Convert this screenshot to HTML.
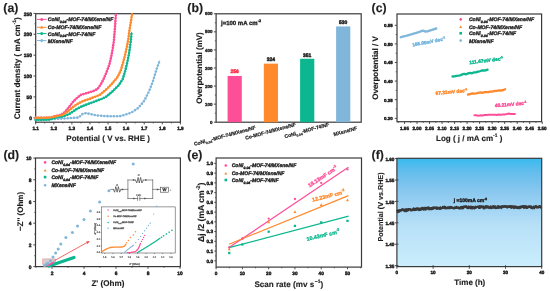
<!DOCTYPE html>
<html><head><meta charset="utf-8"><style>html,body{margin:0;padding:0;background:#fff;width:550px;height:291px;overflow:hidden}svg{display:block;will-change:transform}text{font-family:"Liberation Sans",sans-serif;text-rendering:geometricPrecision}</style></head>
<body><svg xmlns="http://www.w3.org/2000/svg" width="550" height="291" viewBox="0 0 550 291"><text x="3.30" y="11.70" font-size="12.3" text-anchor="start" fill="#1e1e1e" stroke="#1e1e1e" stroke-width="0.14" font-family="Liberation Sans" font-weight="bold" >(a)</text><rect x="35.7" y="13.7" width="144.70" height="108.50" fill="none" stroke="#3a3a3a" stroke-width="1.2"/><line x1="35.70" y1="122.2" x2="35.70" y2="124.4" stroke="#3a3a3a" stroke-width="0.9"/><line x1="53.79" y1="122.2" x2="53.79" y2="124.4" stroke="#3a3a3a" stroke-width="0.9"/><line x1="71.88" y1="122.2" x2="71.88" y2="124.4" stroke="#3a3a3a" stroke-width="0.9"/><line x1="89.96" y1="122.2" x2="89.96" y2="124.4" stroke="#3a3a3a" stroke-width="0.9"/><line x1="108.05" y1="122.2" x2="108.05" y2="124.4" stroke="#3a3a3a" stroke-width="0.9"/><line x1="126.14" y1="122.2" x2="126.14" y2="124.4" stroke="#3a3a3a" stroke-width="0.9"/><line x1="144.23" y1="122.2" x2="144.23" y2="124.4" stroke="#3a3a3a" stroke-width="0.9"/><line x1="162.31" y1="122.2" x2="162.31" y2="124.4" stroke="#3a3a3a" stroke-width="0.9"/><line x1="180.40" y1="122.2" x2="180.40" y2="124.4" stroke="#3a3a3a" stroke-width="0.9"/><line x1="44.74" y1="122.2" x2="44.74" y2="123.5" stroke="#3a3a3a" stroke-width="0.7"/><line x1="62.83" y1="122.2" x2="62.83" y2="123.5" stroke="#3a3a3a" stroke-width="0.7"/><line x1="80.92" y1="122.2" x2="80.92" y2="123.5" stroke="#3a3a3a" stroke-width="0.7"/><line x1="99.01" y1="122.2" x2="99.01" y2="123.5" stroke="#3a3a3a" stroke-width="0.7"/><line x1="117.09" y1="122.2" x2="117.09" y2="123.5" stroke="#3a3a3a" stroke-width="0.7"/><line x1="135.18" y1="122.2" x2="135.18" y2="123.5" stroke="#3a3a3a" stroke-width="0.7"/><line x1="153.27" y1="122.2" x2="153.27" y2="123.5" stroke="#3a3a3a" stroke-width="0.7"/><line x1="171.36" y1="122.2" x2="171.36" y2="123.5" stroke="#3a3a3a" stroke-width="0.7"/><line x1="35.7" y1="117.80" x2="33.5" y2="117.80" stroke="#3a3a3a" stroke-width="0.9"/><line x1="35.7" y1="96.92" x2="33.5" y2="96.92" stroke="#3a3a3a" stroke-width="0.9"/><line x1="35.7" y1="76.04" x2="33.5" y2="76.04" stroke="#3a3a3a" stroke-width="0.9"/><line x1="35.7" y1="55.16" x2="33.5" y2="55.16" stroke="#3a3a3a" stroke-width="0.9"/><line x1="35.7" y1="34.28" x2="33.5" y2="34.28" stroke="#3a3a3a" stroke-width="0.9"/><line x1="35.7" y1="13.40" x2="33.5" y2="13.40" stroke="#3a3a3a" stroke-width="0.9"/><line x1="35.7" y1="107.36" x2="34.400000000000006" y2="107.36" stroke="#3a3a3a" stroke-width="0.7"/><line x1="35.7" y1="86.48" x2="34.400000000000006" y2="86.48" stroke="#3a3a3a" stroke-width="0.7"/><line x1="35.7" y1="65.60" x2="34.400000000000006" y2="65.60" stroke="#3a3a3a" stroke-width="0.7"/><line x1="35.7" y1="44.72" x2="34.400000000000006" y2="44.72" stroke="#3a3a3a" stroke-width="0.7"/><line x1="35.7" y1="23.84" x2="34.400000000000006" y2="23.84" stroke="#3a3a3a" stroke-width="0.7"/><text x="35.70" y="130.10" font-size="4.7" text-anchor="middle" fill="#1e1e1e" stroke="#1e1e1e" stroke-width="0.42" font-family="Liberation Sans" font-weight="bold" >1.1</text><text x="53.79" y="130.10" font-size="4.7" text-anchor="middle" fill="#1e1e1e" stroke="#1e1e1e" stroke-width="0.42" font-family="Liberation Sans" font-weight="bold" >1.2</text><text x="71.88" y="130.10" font-size="4.7" text-anchor="middle" fill="#1e1e1e" stroke="#1e1e1e" stroke-width="0.42" font-family="Liberation Sans" font-weight="bold" >1.3</text><text x="89.96" y="130.10" font-size="4.7" text-anchor="middle" fill="#1e1e1e" stroke="#1e1e1e" stroke-width="0.42" font-family="Liberation Sans" font-weight="bold" >1.4</text><text x="108.05" y="130.10" font-size="4.7" text-anchor="middle" fill="#1e1e1e" stroke="#1e1e1e" stroke-width="0.42" font-family="Liberation Sans" font-weight="bold" >1.5</text><text x="126.14" y="130.10" font-size="4.7" text-anchor="middle" fill="#1e1e1e" stroke="#1e1e1e" stroke-width="0.42" font-family="Liberation Sans" font-weight="bold" >1.6</text><text x="144.23" y="130.10" font-size="4.7" text-anchor="middle" fill="#1e1e1e" stroke="#1e1e1e" stroke-width="0.42" font-family="Liberation Sans" font-weight="bold" >1.7</text><text x="162.31" y="130.10" font-size="4.7" text-anchor="middle" fill="#1e1e1e" stroke="#1e1e1e" stroke-width="0.42" font-family="Liberation Sans" font-weight="bold" >1.8</text><text x="180.40" y="130.10" font-size="4.7" text-anchor="middle" fill="#1e1e1e" stroke="#1e1e1e" stroke-width="0.42" font-family="Liberation Sans" font-weight="bold" >1.9</text><text x="32.00" y="119.90" font-size="4.9" text-anchor="end" fill="#1e1e1e" stroke="#1e1e1e" stroke-width="0.42" font-family="Liberation Sans" font-weight="bold" >0</text><text x="32.00" y="99.02" font-size="4.9" text-anchor="end" fill="#1e1e1e" stroke="#1e1e1e" stroke-width="0.42" font-family="Liberation Sans" font-weight="bold" >50</text><text x="32.00" y="78.14" font-size="4.9" text-anchor="end" fill="#1e1e1e" stroke="#1e1e1e" stroke-width="0.42" font-family="Liberation Sans" font-weight="bold" >100</text><text x="32.00" y="57.26" font-size="4.9" text-anchor="end" fill="#1e1e1e" stroke="#1e1e1e" stroke-width="0.42" font-family="Liberation Sans" font-weight="bold" >150</text><text x="32.00" y="36.38" font-size="4.9" text-anchor="end" fill="#1e1e1e" stroke="#1e1e1e" stroke-width="0.42" font-family="Liberation Sans" font-weight="bold" >200</text><text x="32.00" y="15.50" font-size="4.9" text-anchor="end" fill="#1e1e1e" stroke="#1e1e1e" stroke-width="0.42" font-family="Liberation Sans" font-weight="bold" >250</text><text x="108.10" y="140.70" font-size="8.0" text-anchor="middle" fill="#1e1e1e" stroke="#1e1e1e" stroke-width="0.14" font-family="Liberation Sans" font-weight="bold" >Potential ( V vs. RHE )</text><text x="19.90" y="68.30" font-size="8.2" text-anchor="middle" fill="#1e1e1e" stroke="#1e1e1e" stroke-width="0.14" font-family="Liberation Sans" font-weight="bold" transform="rotate(-90 19.9 68.3)" >Current density ( mA cm<tspan font-size="5.08" baseline-shift="3.94">-1</tspan>)</text><polyline points="35.7,118.0 50.0,117.8 55.0,116.2 60.5,115.0 64.6,112.3 68.7,107.5 72.9,102.0 77.0,97.9 81.1,94.8 85.2,93.5 89.3,92.4 93.5,91.0 97.6,88.9 100.0,85.6 103.1,80.2 106.2,73.0 109.3,64.7 111.3,56.5 112.8,48.2 114.0,40.0 115.0,27.0 115.9,13.7" fill="none" stroke="#fd4f98" stroke-width="1.2" stroke-linejoin="round" stroke-linecap="round" /><polyline points="35.7,118.0 50.0,117.8 55.0,116.2 60.5,115.0 64.6,112.3 68.7,107.5 72.9,102.0 77.0,97.9 81.1,94.8 85.2,93.5 89.3,92.4 93.5,91.0 97.6,88.9 100.0,85.6 103.1,80.2 106.2,73.0 109.3,64.7 111.3,56.5 112.8,48.2 114.0,40.0 115.0,27.0 115.9,13.7" fill="none" stroke="#fd4f98" stroke-width="2.7" stroke-linejoin="round" stroke-linecap="round" stroke-dasharray="0 2.7"/><polyline points="35.7,119.3 55.0,119.0 78.4,117.6 82.5,114.0 85.9,113.1 90.7,114.1 96.2,115.4 105.0,116.0 110.0,116.3 120.0,116.2 124.0,115.1 131.2,112.7 138.4,107.9 144.4,100.6 149.2,91.0 152.9,81.4 156.5,69.4 159.7,60.6" fill="none" stroke="#80b6da" stroke-width="0.7" stroke-linejoin="round" stroke-linecap="round" /><polyline points="35.7,119.3 55.0,119.0 78.4,117.6 82.5,114.0 85.9,113.1 90.7,114.1 96.2,115.4 105.0,116.0 110.0,116.3 120.0,116.2 124.0,115.1 131.2,112.7 138.4,107.9 144.4,100.6 149.2,91.0 152.9,81.4 156.5,69.4 159.7,60.6" fill="none" stroke="#80b6da" stroke-width="2.6" stroke-linejoin="round" stroke-linecap="round" stroke-dasharray="0 3.2"/><polyline points="35.7,119.9 50.0,119.6 55.0,117.6 63.2,116.4 68.7,114.3 72.9,111.6 77.0,108.8 82.5,106.1 88.0,104.0 93.5,102.0 99.0,99.9 100.0,99.7 106.2,96.7 112.4,91.5 118.6,85.4 122.7,79.2 125.2,70.9 127.2,62.7 128.9,54.4 130.1,46.2 130.9,40.0 131.6,32.5" fill="none" stroke="#0cb78f" stroke-width="1.2" stroke-linejoin="round" stroke-linecap="round" /><polyline points="35.7,119.9 50.0,119.6 55.0,117.6 63.2,116.4 68.7,114.3 72.9,111.6 77.0,108.8 82.5,106.1 88.0,104.0 93.5,102.0 99.0,99.9 100.0,99.7 106.2,96.7 112.4,91.5 118.6,85.4 122.7,79.2 125.2,70.9 127.2,62.7 128.9,54.4 130.1,46.2 130.9,40.0 131.6,32.5" fill="none" stroke="#0cb78f" stroke-width="2.7" stroke-linejoin="round" stroke-linecap="round" stroke-dasharray="0 2.7"/><polyline points="35.7,117.9 50.0,117.6 55.0,116.6 61.9,115.0 66.0,113.0 70.1,109.5 74.2,106.1 78.4,103.4 82.5,101.3 86.6,99.9 92.1,97.9 97.6,95.8 100.5,94.3 106.2,89.5 112.4,83.3 117.5,77.1 120.6,70.9 123.1,62.7 125.2,54.4 126.8,47.2 128.2,40.0 129.5,30.0 131.0,21.0 132.1,13.7" fill="none" stroke="#ff8a2e" stroke-width="1.2" stroke-linejoin="round" stroke-linecap="round" /><polyline points="35.7,117.9 50.0,117.6 55.0,116.6 61.9,115.0 66.0,113.0 70.1,109.5 74.2,106.1 78.4,103.4 82.5,101.3 86.6,99.9 92.1,97.9 97.6,95.8 100.5,94.3 106.2,89.5 112.4,83.3 117.5,77.1 120.6,70.9 123.1,62.7 125.2,54.4 126.8,47.2 128.2,40.0 129.5,30.0 131.0,21.0 132.1,13.7" fill="none" stroke="#ff8a2e" stroke-width="2.7" stroke-linejoin="round" stroke-linecap="round" stroke-dasharray="0 2.7"/><line x1="37" y1="19.4" x2="46.5" y2="19.4" stroke="#fd4f98" stroke-width="1"/><circle cx="41.70" cy="19.40" r="1.5" fill="#fd4f98"/><text x="47.70" y="21.30" font-size="5.15" text-anchor="start" fill="#1e1e1e" stroke="#1e1e1e" stroke-width="0.34" font-family="Liberation Sans" font-weight="bold" font-style="italic">CoNi<tspan font-size="3.50" dy="1.75">0.04</tspan><tspan dy="-1.75">-MOF-74/MXene/NF</tspan></text><line x1="37" y1="27.3" x2="46.5" y2="27.3" stroke="#ff8a2e" stroke-width="1"/><path d="M41.70 25.43L43.50 28.57L39.90 28.57Z" fill="#ff8a2e"/><text x="47.70" y="29.20" font-size="5.15" text-anchor="start" fill="#1e1e1e" stroke="#1e1e1e" stroke-width="0.34" font-family="Liberation Sans" font-weight="bold" font-style="italic">Co-MOF-74/MXene/NF</text><line x1="37" y1="33.6" x2="46.5" y2="33.6" stroke="#0cb78f" stroke-width="1"/><circle cx="41.70" cy="33.60" r="1.5" fill="#0cb78f"/><text x="47.70" y="35.50" font-size="5.15" text-anchor="start" fill="#1e1e1e" stroke="#1e1e1e" stroke-width="0.34" font-family="Liberation Sans" font-weight="bold" font-style="italic">CoNi<tspan font-size="3.50" dy="1.75">0.04</tspan><tspan dy="-1.75">-MOF-74/NF</tspan></text><line x1="37" y1="40.6" x2="46.5" y2="40.6" stroke="#80b6da" stroke-width="1"/><path d="M41.70 38.65L43.65 40.60L41.70 42.55L39.75 40.60Z" fill="#80b6da"/><text x="47.70" y="42.50" font-size="5.15" text-anchor="start" fill="#1e1e1e" stroke="#1e1e1e" stroke-width="0.34" font-family="Liberation Sans" font-weight="bold" font-style="italic">MXene/NF</text><text x="187.30" y="11.70" font-size="12.3" text-anchor="start" fill="#1e1e1e" stroke="#1e1e1e" stroke-width="0.14" font-family="Liberation Sans" font-weight="bold" >(b)</text><rect x="216.1" y="13.8" width="145.10" height="108.40" fill="none" stroke="#3a3a3a" stroke-width="1.2"/><line x1="216.1" y1="122.20" x2="213.9" y2="122.20" stroke="#3a3a3a" stroke-width="0.9"/><line x1="216.1" y1="104.13" x2="213.9" y2="104.13" stroke="#3a3a3a" stroke-width="0.9"/><line x1="216.1" y1="86.06" x2="213.9" y2="86.06" stroke="#3a3a3a" stroke-width="0.9"/><line x1="216.1" y1="67.99" x2="213.9" y2="67.99" stroke="#3a3a3a" stroke-width="0.9"/><line x1="216.1" y1="49.92" x2="213.9" y2="49.92" stroke="#3a3a3a" stroke-width="0.9"/><line x1="216.1" y1="31.85" x2="213.9" y2="31.85" stroke="#3a3a3a" stroke-width="0.9"/><line x1="216.1" y1="13.78" x2="213.9" y2="13.78" stroke="#3a3a3a" stroke-width="0.9"/><line x1="216.1" y1="113.17" x2="214.79999999999998" y2="113.17" stroke="#3a3a3a" stroke-width="0.7"/><line x1="216.1" y1="95.09" x2="214.79999999999998" y2="95.09" stroke="#3a3a3a" stroke-width="0.7"/><line x1="216.1" y1="77.03" x2="214.79999999999998" y2="77.03" stroke="#3a3a3a" stroke-width="0.7"/><line x1="216.1" y1="58.96" x2="214.79999999999998" y2="58.96" stroke="#3a3a3a" stroke-width="0.7"/><line x1="216.1" y1="40.89" x2="214.79999999999998" y2="40.89" stroke="#3a3a3a" stroke-width="0.7"/><line x1="216.1" y1="22.81" x2="214.79999999999998" y2="22.81" stroke="#3a3a3a" stroke-width="0.7"/><text x="212.40" y="123.80" font-size="4.4" text-anchor="end" fill="#333" stroke="#333" stroke-width="0.42" font-family="Liberation Sans" font-weight="bold" >0</text><text x="212.40" y="105.73" font-size="4.4" text-anchor="end" fill="#333" stroke="#333" stroke-width="0.42" font-family="Liberation Sans" font-weight="bold" >100</text><text x="212.40" y="87.66" font-size="4.4" text-anchor="end" fill="#333" stroke="#333" stroke-width="0.42" font-family="Liberation Sans" font-weight="bold" >200</text><text x="212.40" y="69.59" font-size="4.4" text-anchor="end" fill="#333" stroke="#333" stroke-width="0.42" font-family="Liberation Sans" font-weight="bold" >300</text><text x="212.40" y="51.52" font-size="4.4" text-anchor="end" fill="#333" stroke="#333" stroke-width="0.42" font-family="Liberation Sans" font-weight="bold" >400</text><text x="212.40" y="33.45" font-size="4.4" text-anchor="end" fill="#333" stroke="#333" stroke-width="0.42" font-family="Liberation Sans" font-weight="bold" >500</text><text x="212.40" y="15.38" font-size="4.4" text-anchor="end" fill="#333" stroke="#333" stroke-width="0.42" font-family="Liberation Sans" font-weight="bold" >600</text><text x="201.60" y="68.00" font-size="8.0" text-anchor="middle" fill="#1e1e1e" stroke="#1e1e1e" stroke-width="0.14" font-family="Liberation Sans" font-weight="bold" transform="rotate(-90 201.6 68)" >Overpotential (mV)</text><text x="221.00" y="25.30" font-size="6.0" text-anchor="start" fill="#1e1e1e" stroke="#1e1e1e" stroke-width="0.32" font-family="Liberation Sans" font-weight="bold" >j=100 mA cm<tspan font-size="3.72" baseline-shift="2.88">-2</tspan></text><rect x="227.6" y="75.94" width="14.2" height="46.26" fill="#fd4f98"/><text x="234.70" y="72.94" font-size="5.0" text-anchor="middle" fill="#ff2a48" stroke="#ff2a48" stroke-width="0.42" font-family="Liberation Sans" font-weight="bold" >256</text><rect x="263.8" y="63.65" width="14.2" height="58.55" fill="#ff8a2e"/><text x="270.90" y="61.45" font-size="5.0" text-anchor="middle" fill="#1e1e1e" stroke="#1e1e1e" stroke-width="0.42" font-family="Liberation Sans" font-weight="bold" >324</text><rect x="300.1" y="58.77" width="14.2" height="63.43" fill="#0cb78f"/><text x="307.20" y="56.57" font-size="5.0" text-anchor="middle" fill="#1e1e1e" stroke="#1e1e1e" stroke-width="0.42" font-family="Liberation Sans" font-weight="bold" >351</text><rect x="336.1" y="26.43" width="14.2" height="95.77" fill="#80b6da"/><text x="343.20" y="24.23" font-size="5.0" text-anchor="middle" fill="#1e1e1e" stroke="#1e1e1e" stroke-width="0.42" font-family="Liberation Sans" font-weight="bold" >530</text><text transform="translate(224.80 135.70) rotate(-15.3)" x="0" y="1.80" font-size="5.0" text-anchor="middle" fill="#1e1e1e" stroke="#1e1e1e" stroke-width="0.2" font-family="Liberation Sans" font-weight="bold">CoNi<tspan font-size="3.30" dy="1.65">0.04</tspan><tspan dy="-1.65">-MOF-74/MXene/NF</tspan></text><text transform="translate(270.50 131.10) rotate(-15.3)" x="0" y="1.80" font-size="5.0" text-anchor="middle" fill="#1e1e1e" stroke="#1e1e1e" stroke-width="0.2" font-family="Liberation Sans" font-weight="bold">Co-MOF-74/MXene/NF</text><text transform="translate(306.80 130.30) rotate(-15.3)" x="0" y="1.80" font-size="5.0" text-anchor="middle" fill="#1e1e1e" stroke="#1e1e1e" stroke-width="0.2" font-family="Liberation Sans" font-weight="bold">CoNi<tspan font-size="3.30" dy="1.65">0.04</tspan><tspan dy="-1.65">-MOF-74/NF</tspan></text><text transform="translate(345.20 131.20) rotate(-15.3)" x="0" y="1.80" font-size="5.0" text-anchor="middle" fill="#1e1e1e" stroke="#1e1e1e" stroke-width="0.2" font-family="Liberation Sans" font-weight="bold">MXene/NF</text><text x="371.60" y="11.60" font-size="12.3" text-anchor="start" fill="#1e1e1e" stroke="#1e1e1e" stroke-width="0.14" font-family="Liberation Sans" font-weight="bold" >(c)</text><rect x="397" y="14" width="144.60" height="107.70" fill="none" stroke="#3a3a3a" stroke-width="1.2"/><line x1="404.50" y1="121.7" x2="404.50" y2="123.9" stroke="#3a3a3a" stroke-width="0.9"/><line x1="417.02" y1="121.7" x2="417.02" y2="123.9" stroke="#3a3a3a" stroke-width="0.9"/><line x1="429.54" y1="121.7" x2="429.54" y2="123.9" stroke="#3a3a3a" stroke-width="0.9"/><line x1="442.06" y1="121.7" x2="442.06" y2="123.9" stroke="#3a3a3a" stroke-width="0.9"/><line x1="454.58" y1="121.7" x2="454.58" y2="123.9" stroke="#3a3a3a" stroke-width="0.9"/><line x1="467.10" y1="121.7" x2="467.10" y2="123.9" stroke="#3a3a3a" stroke-width="0.9"/><line x1="479.62" y1="121.7" x2="479.62" y2="123.9" stroke="#3a3a3a" stroke-width="0.9"/><line x1="492.14" y1="121.7" x2="492.14" y2="123.9" stroke="#3a3a3a" stroke-width="0.9"/><line x1="504.66" y1="121.7" x2="504.66" y2="123.9" stroke="#3a3a3a" stroke-width="0.9"/><line x1="517.18" y1="121.7" x2="517.18" y2="123.9" stroke="#3a3a3a" stroke-width="0.9"/><line x1="529.70" y1="121.7" x2="529.70" y2="123.9" stroke="#3a3a3a" stroke-width="0.9"/><line x1="542.22" y1="121.7" x2="542.22" y2="123.9" stroke="#3a3a3a" stroke-width="0.9"/><line x1="410.76" y1="121.7" x2="410.76" y2="123.0" stroke="#3a3a3a" stroke-width="0.7"/><line x1="423.28" y1="121.7" x2="423.28" y2="123.0" stroke="#3a3a3a" stroke-width="0.7"/><line x1="435.80" y1="121.7" x2="435.80" y2="123.0" stroke="#3a3a3a" stroke-width="0.7"/><line x1="448.32" y1="121.7" x2="448.32" y2="123.0" stroke="#3a3a3a" stroke-width="0.7"/><line x1="460.84" y1="121.7" x2="460.84" y2="123.0" stroke="#3a3a3a" stroke-width="0.7"/><line x1="473.36" y1="121.7" x2="473.36" y2="123.0" stroke="#3a3a3a" stroke-width="0.7"/><line x1="485.88" y1="121.7" x2="485.88" y2="123.0" stroke="#3a3a3a" stroke-width="0.7"/><line x1="498.40" y1="121.7" x2="498.40" y2="123.0" stroke="#3a3a3a" stroke-width="0.7"/><line x1="510.92" y1="121.7" x2="510.92" y2="123.0" stroke="#3a3a3a" stroke-width="0.7"/><line x1="523.44" y1="121.7" x2="523.44" y2="123.0" stroke="#3a3a3a" stroke-width="0.7"/><line x1="535.96" y1="121.7" x2="535.96" y2="123.0" stroke="#3a3a3a" stroke-width="0.7"/><line x1="398.24" y1="121.7" x2="398.24" y2="123.0" stroke="#3a3a3a" stroke-width="0.7"/><line x1="397" y1="118.30" x2="394.8" y2="118.30" stroke="#3a3a3a" stroke-width="0.9"/><line x1="397" y1="99.70" x2="394.8" y2="99.70" stroke="#3a3a3a" stroke-width="0.9"/><line x1="397" y1="81.10" x2="394.8" y2="81.10" stroke="#3a3a3a" stroke-width="0.9"/><line x1="397" y1="62.50" x2="394.8" y2="62.50" stroke="#3a3a3a" stroke-width="0.9"/><line x1="397" y1="43.90" x2="394.8" y2="43.90" stroke="#3a3a3a" stroke-width="0.9"/><line x1="397" y1="25.30" x2="394.8" y2="25.30" stroke="#3a3a3a" stroke-width="0.9"/><line x1="397" y1="109.00" x2="395.7" y2="109.00" stroke="#3a3a3a" stroke-width="0.7"/><line x1="397" y1="90.40" x2="395.7" y2="90.40" stroke="#3a3a3a" stroke-width="0.7"/><line x1="397" y1="71.80" x2="395.7" y2="71.80" stroke="#3a3a3a" stroke-width="0.7"/><line x1="397" y1="53.20" x2="395.7" y2="53.20" stroke="#3a3a3a" stroke-width="0.7"/><line x1="397" y1="34.60" x2="395.7" y2="34.60" stroke="#3a3a3a" stroke-width="0.7"/><text x="404.50" y="129.60" font-size="4.6" text-anchor="middle" fill="#1e1e1e" stroke="#1e1e1e" stroke-width="0.42" font-family="Liberation Sans" font-weight="bold" >1.95</text><text x="417.02" y="129.60" font-size="4.6" text-anchor="middle" fill="#1e1e1e" stroke="#1e1e1e" stroke-width="0.42" font-family="Liberation Sans" font-weight="bold" >2.00</text><text x="429.54" y="129.60" font-size="4.6" text-anchor="middle" fill="#1e1e1e" stroke="#1e1e1e" stroke-width="0.42" font-family="Liberation Sans" font-weight="bold" >2.05</text><text x="442.06" y="129.60" font-size="4.6" text-anchor="middle" fill="#1e1e1e" stroke="#1e1e1e" stroke-width="0.42" font-family="Liberation Sans" font-weight="bold" >2.10</text><text x="454.58" y="129.60" font-size="4.6" text-anchor="middle" fill="#1e1e1e" stroke="#1e1e1e" stroke-width="0.42" font-family="Liberation Sans" font-weight="bold" >2.15</text><text x="467.10" y="129.60" font-size="4.6" text-anchor="middle" fill="#1e1e1e" stroke="#1e1e1e" stroke-width="0.42" font-family="Liberation Sans" font-weight="bold" >2.20</text><text x="479.62" y="129.60" font-size="4.6" text-anchor="middle" fill="#1e1e1e" stroke="#1e1e1e" stroke-width="0.42" font-family="Liberation Sans" font-weight="bold" >2.25</text><text x="492.14" y="129.60" font-size="4.6" text-anchor="middle" fill="#1e1e1e" stroke="#1e1e1e" stroke-width="0.42" font-family="Liberation Sans" font-weight="bold" >2.30</text><text x="504.66" y="129.60" font-size="4.6" text-anchor="middle" fill="#1e1e1e" stroke="#1e1e1e" stroke-width="0.42" font-family="Liberation Sans" font-weight="bold" >2.35</text><text x="517.18" y="129.60" font-size="4.6" text-anchor="middle" fill="#1e1e1e" stroke="#1e1e1e" stroke-width="0.42" font-family="Liberation Sans" font-weight="bold" >2.40</text><text x="529.70" y="129.60" font-size="4.6" text-anchor="middle" fill="#1e1e1e" stroke="#1e1e1e" stroke-width="0.42" font-family="Liberation Sans" font-weight="bold" >2.45</text><text x="542.22" y="129.60" font-size="4.6" text-anchor="middle" fill="#1e1e1e" stroke="#1e1e1e" stroke-width="0.42" font-family="Liberation Sans" font-weight="bold" >2.50</text><text x="392.60" y="120.20" font-size="4.4" text-anchor="end" fill="#1e1e1e" stroke="#1e1e1e" stroke-width="0.42" font-family="Liberation Sans" font-weight="bold" >0.30</text><text x="392.60" y="101.60" font-size="4.4" text-anchor="end" fill="#1e1e1e" stroke="#1e1e1e" stroke-width="0.42" font-family="Liberation Sans" font-weight="bold" >0.35</text><text x="392.60" y="83.00" font-size="4.4" text-anchor="end" fill="#1e1e1e" stroke="#1e1e1e" stroke-width="0.42" font-family="Liberation Sans" font-weight="bold" >0.40</text><text x="392.60" y="64.40" font-size="4.4" text-anchor="end" fill="#1e1e1e" stroke="#1e1e1e" stroke-width="0.42" font-family="Liberation Sans" font-weight="bold" >0.45</text><text x="392.60" y="45.80" font-size="4.4" text-anchor="end" fill="#1e1e1e" stroke="#1e1e1e" stroke-width="0.42" font-family="Liberation Sans" font-weight="bold" >0.50</text><text x="392.60" y="27.20" font-size="4.4" text-anchor="end" fill="#1e1e1e" stroke="#1e1e1e" stroke-width="0.42" font-family="Liberation Sans" font-weight="bold" >0.55</text><text x="469.20" y="141.20" font-size="8.0" text-anchor="middle" fill="#1e1e1e" stroke="#1e1e1e" stroke-width="0.14" font-family="Liberation Sans" font-weight="bold" >Log ( j / mA cm<tspan font-size="4.96" baseline-shift="3.84">-1</tspan> )</text><text x="378.40" y="68.00" font-size="8.0" text-anchor="middle" fill="#1e1e1e" stroke="#1e1e1e" stroke-width="0.14" font-family="Liberation Sans" font-weight="bold" transform="rotate(-90 378.4 68)" >Overpotential / V</text><polyline points="400.8,37.2 406.0,35.9 412.0,34.2 418.0,32.3 422.8,30.7 425.5,31.5 428.0,31.2 432.0,29.8 436.2,28.5" fill="none" stroke="#80b6da" stroke-width="2.4" stroke-linejoin="round" stroke-linecap="round" /><polyline points="452.5,76.5 454.4,76.4 456.4,75.9 458.4,75.7 460.3,75.3 462.2,74.4 464.2,73.9 466.2,74.3 468.1,73.4 470.1,72.9 472.0,73.3 474.0,72.4 475.9,72.3 477.9,71.6 479.8,71.3 481.8,70.5 483.7,70.5 485.7,70.4 487.6,69.6" fill="none" stroke="#0cb78f" stroke-width="2.3" stroke-linejoin="round" stroke-linecap="round" /><polyline points="468.0,94.5 470.1,94.2 472.1,93.4 474.2,93.7 476.2,93.3 478.3,92.8 480.4,92.4 482.4,92.8 484.5,92.2 486.6,92.1 488.6,92.0 490.7,91.6 492.7,91.5 494.8,90.8 496.9,90.9 498.9,90.3 501.0,90.5 503.0,90.2 505.1,89.3" fill="none" stroke="#ff8a2e" stroke-width="2.3" stroke-linejoin="round" stroke-linecap="round" /><polyline points="474.4,115.3 476.4,115.3 478.4,115.9 480.5,115.3 482.5,115.4 484.5,115.0 486.5,115.0 488.6,114.8 490.6,114.7 492.6,114.8 494.6,114.7 496.7,114.9 498.7,114.6 500.7,114.7 502.8,114.5 504.8,114.5 506.8,114.1 508.8,113.5 510.8,114.1 512.9,114.1 514.9,113.9" fill="none" stroke="#fd4f98" stroke-width="2.0" stroke-linejoin="round" stroke-linecap="round" /><text x="412.80" y="46.60" font-size="4.65" text-anchor="start" fill="#72b4de" stroke="#72b4de" stroke-width="0.42" font-family="Liberation Sans" font-weight="bold" transform="rotate(-11 412.8 46.6)" >165.05mV dec<tspan font-size="2.88" baseline-shift="2.23">-1</tspan></text><text x="469.60" y="64.20" font-size="4.8" text-anchor="start" fill="#0cb78f" stroke="#0cb78f" stroke-width="0.42" font-family="Liberation Sans" font-weight="bold" transform="rotate(-7 469.6 64.2)" >111.47mV dec<tspan font-size="2.98" baseline-shift="2.30">-1</tspan></text><text x="435.80" y="95.00" font-size="4.8" text-anchor="start" fill="#ff8a2e" stroke="#ff8a2e" stroke-width="0.42" font-family="Liberation Sans" font-weight="bold" transform="rotate(-5.5 435.8 95.0)" >67.31mV dec<tspan font-size="2.98" baseline-shift="2.30">-1</tspan></text><text x="495.00" y="107.20" font-size="4.8" text-anchor="start" fill="#fd4f98" stroke="#fd4f98" stroke-width="0.42" font-family="Liberation Sans" font-weight="bold" transform="rotate(-4.5 495 107.2)" >40.21mV dec<tspan font-size="2.98" baseline-shift="2.30">-1</tspan></text><circle cx="460.70" cy="19.40" r="1.3" fill="#fd4f98"/><text x="468.90" y="21.30" font-size="5.1" text-anchor="start" fill="#1e1e1e" stroke="#1e1e1e" stroke-width="0.34" font-family="Liberation Sans" font-weight="bold" font-style="italic">CoNi<tspan font-size="3.50" dy="1.75">0.04</tspan><tspan dy="-1.75">-MOF-74/MXene/NF</tspan></text><path d="M460.70 25.38L462.26 28.11L459.14 28.11Z" fill="#ff8a2e"/><text x="468.90" y="28.90" font-size="5.1" text-anchor="start" fill="#1e1e1e" stroke="#1e1e1e" stroke-width="0.34" font-family="Liberation Sans" font-weight="bold" font-style="italic">Co-MOF-74/MXene/NF</text><rect x="459.40" y="32.00" width="2.6" height="2.6" fill="#0cb78f"/><text x="468.90" y="35.20" font-size="5.1" text-anchor="start" fill="#1e1e1e" stroke="#1e1e1e" stroke-width="0.34" font-family="Liberation Sans" font-weight="bold" font-style="italic">CoNi<tspan font-size="3.50" dy="1.75">0.04</tspan><tspan dy="-1.75">-MOF-74/NF</tspan></text><circle cx="460.70" cy="40.60" r="1.3" fill="#80b6da"/><text x="468.90" y="42.50" font-size="5.1" text-anchor="start" fill="#1e1e1e" stroke="#1e1e1e" stroke-width="0.34" font-family="Liberation Sans" font-weight="bold" font-style="italic">MXene/NF</text><text x="3.40" y="158.50" font-size="12.3" text-anchor="start" fill="#1e1e1e" stroke="#1e1e1e" stroke-width="0.14" font-family="Liberation Sans" font-weight="bold" >(d)</text><rect x="35.5" y="158" width="144.90" height="108.60" fill="none" stroke="#3a3a3a" stroke-width="1.2"/><line x1="52.00" y1="266.6" x2="52.00" y2="268.8" stroke="#3a3a3a" stroke-width="0.9"/><line x1="84.00" y1="266.6" x2="84.00" y2="268.8" stroke="#3a3a3a" stroke-width="0.9"/><line x1="116.00" y1="266.6" x2="116.00" y2="268.8" stroke="#3a3a3a" stroke-width="0.9"/><line x1="148.00" y1="266.6" x2="148.00" y2="268.8" stroke="#3a3a3a" stroke-width="0.9"/><line x1="180.00" y1="266.6" x2="180.00" y2="268.8" stroke="#3a3a3a" stroke-width="0.9"/><line x1="36.00" y1="266.6" x2="36.00" y2="267.90000000000003" stroke="#3a3a3a" stroke-width="0.7"/><line x1="68.00" y1="266.6" x2="68.00" y2="267.90000000000003" stroke="#3a3a3a" stroke-width="0.7"/><line x1="100.00" y1="266.6" x2="100.00" y2="267.90000000000003" stroke="#3a3a3a" stroke-width="0.7"/><line x1="132.00" y1="266.6" x2="132.00" y2="267.90000000000003" stroke="#3a3a3a" stroke-width="0.7"/><line x1="164.00" y1="266.6" x2="164.00" y2="267.90000000000003" stroke="#3a3a3a" stroke-width="0.7"/><line x1="35.5" y1="266.60" x2="33.3" y2="266.60" stroke="#3a3a3a" stroke-width="0.9"/><line x1="35.5" y1="244.90" x2="33.3" y2="244.90" stroke="#3a3a3a" stroke-width="0.9"/><line x1="35.5" y1="223.20" x2="33.3" y2="223.20" stroke="#3a3a3a" stroke-width="0.9"/><line x1="35.5" y1="201.50" x2="33.3" y2="201.50" stroke="#3a3a3a" stroke-width="0.9"/><line x1="35.5" y1="179.80" x2="33.3" y2="179.80" stroke="#3a3a3a" stroke-width="0.9"/><line x1="35.5" y1="158.10" x2="33.3" y2="158.10" stroke="#3a3a3a" stroke-width="0.9"/><line x1="35.5" y1="255.75" x2="34.2" y2="255.75" stroke="#3a3a3a" stroke-width="0.7"/><line x1="35.5" y1="234.05" x2="34.2" y2="234.05" stroke="#3a3a3a" stroke-width="0.7"/><line x1="35.5" y1="212.35" x2="34.2" y2="212.35" stroke="#3a3a3a" stroke-width="0.7"/><line x1="35.5" y1="190.65" x2="34.2" y2="190.65" stroke="#3a3a3a" stroke-width="0.7"/><line x1="35.5" y1="168.95" x2="34.2" y2="168.95" stroke="#3a3a3a" stroke-width="0.7"/><text x="52.00" y="274.60" font-size="4.9" text-anchor="middle" fill="#1e1e1e" stroke="#1e1e1e" stroke-width="0.42" font-family="Liberation Sans" font-weight="bold" >2</text><text x="84.00" y="274.60" font-size="4.9" text-anchor="middle" fill="#1e1e1e" stroke="#1e1e1e" stroke-width="0.42" font-family="Liberation Sans" font-weight="bold" >4</text><text x="116.00" y="274.60" font-size="4.9" text-anchor="middle" fill="#1e1e1e" stroke="#1e1e1e" stroke-width="0.42" font-family="Liberation Sans" font-weight="bold" >6</text><text x="148.00" y="274.60" font-size="4.9" text-anchor="middle" fill="#1e1e1e" stroke="#1e1e1e" stroke-width="0.42" font-family="Liberation Sans" font-weight="bold" >8</text><text x="180.00" y="274.60" font-size="4.9" text-anchor="middle" fill="#1e1e1e" stroke="#1e1e1e" stroke-width="0.42" font-family="Liberation Sans" font-weight="bold" >10</text><text x="31.60" y="268.60" font-size="4.9" text-anchor="end" fill="#1e1e1e" stroke="#1e1e1e" stroke-width="0.42" font-family="Liberation Sans" font-weight="bold" >0</text><text x="31.60" y="246.90" font-size="4.9" text-anchor="end" fill="#1e1e1e" stroke="#1e1e1e" stroke-width="0.42" font-family="Liberation Sans" font-weight="bold" >2</text><text x="31.60" y="225.20" font-size="4.9" text-anchor="end" fill="#1e1e1e" stroke="#1e1e1e" stroke-width="0.42" font-family="Liberation Sans" font-weight="bold" >4</text><text x="31.60" y="203.50" font-size="4.9" text-anchor="end" fill="#1e1e1e" stroke="#1e1e1e" stroke-width="0.42" font-family="Liberation Sans" font-weight="bold" >6</text><text x="31.60" y="181.80" font-size="4.9" text-anchor="end" fill="#1e1e1e" stroke="#1e1e1e" stroke-width="0.42" font-family="Liberation Sans" font-weight="bold" >8</text><text x="31.60" y="160.10" font-size="4.9" text-anchor="end" fill="#1e1e1e" stroke="#1e1e1e" stroke-width="0.42" font-family="Liberation Sans" font-weight="bold" >10</text><text x="107.90" y="285.80" font-size="8.1" text-anchor="middle" fill="#1e1e1e" stroke="#1e1e1e" stroke-width="0.14" font-family="Liberation Sans" font-weight="bold" >Z&#39; (Ohm)</text><text x="23.30" y="211.50" font-size="8.0" text-anchor="middle" fill="#1e1e1e" stroke="#1e1e1e" stroke-width="0.14" font-family="Liberation Sans" font-weight="bold" transform="rotate(-90 23.3 211.5)" >−Z&#39;&#39; (Ohm)</text><rect x="42.7" y="258.9" width="12.9" height="5.7" fill="#cfcfcf" stroke="#f3a0a0" stroke-width="0.7"/><path d="M49 266 L74 257.5" stroke="#0cb78f" stroke-width="3.2" stroke-linecap="round"/><path d="M44 266 L50 265" stroke="#ff8a2e" stroke-width="1.5"/><path d="M47 266 L54 262" stroke="#fd4f98" stroke-width="1.5"/><circle cx="44.5" cy="265.5" r="1.5" fill="#80b6da"/><circle cx="46.2" cy="264.5" r="1.5" fill="#80b6da"/><circle cx="47.9" cy="263.3" r="1.5" fill="#80b6da"/><circle cx="50.5" cy="260.7" r="1.5" fill="#80b6da"/><circle cx="53" cy="256.9" r="1.5" fill="#80b6da"/><circle cx="55.6" cy="253" r="1.5" fill="#80b6da"/><circle cx="58.2" cy="249.1" r="1.5" fill="#80b6da"/><circle cx="60.8" cy="244" r="1.5" fill="#80b6da"/><circle cx="65.9" cy="237.5" r="1.5" fill="#80b6da"/><circle cx="72.4" cy="232.4" r="1.5" fill="#80b6da"/><circle cx="77.5" cy="225.9" r="1.5" fill="#80b6da"/><circle cx="84" cy="219.5" r="1.5" fill="#80b6da"/><circle cx="90.4" cy="211" r="1.5" fill="#80b6da"/><circle cx="99.6" cy="202.1" r="1.5" fill="#80b6da"/><circle cx="108.9" cy="190.7" r="1.5" fill="#80b6da"/><circle cx="133.2" cy="163.9" r="1.5" fill="#80b6da"/><line x1="54.3" y1="260.7" x2="88" y2="242" stroke="#f04040" stroke-width="0.8"/><path d="M89.8 241 L86.2 241.6 L87.6 244 Z" fill="#f04040"/><circle cx="45.10" cy="162.40" r="1.3" fill="#fd4f98"/><text x="51.40" y="164.30" font-size="5.05" text-anchor="start" fill="#1e1e1e" stroke="#1e1e1e" stroke-width="0.34" font-family="Liberation Sans" font-weight="bold" font-style="italic">CoNi<tspan font-size="3.50" dy="1.75">0.04</tspan><tspan dy="-1.75">-MOF-74/MXene/NF</tspan></text><path d="M45.10 168.88L46.66 171.60L43.54 171.60Z" fill="#ff8a2e"/><text x="51.40" y="172.40" font-size="5.05" text-anchor="start" fill="#1e1e1e" stroke="#1e1e1e" stroke-width="0.34" font-family="Liberation Sans" font-weight="bold" font-style="italic">Co-MOF-74/MXene/NF</text><rect x="43.80" y="175.80" width="2.6" height="2.6" fill="#0cb78f"/><text x="51.40" y="179.00" font-size="5.05" text-anchor="start" fill="#1e1e1e" stroke="#1e1e1e" stroke-width="0.34" font-family="Liberation Sans" font-weight="bold" font-style="italic">CoNi<tspan font-size="3.50" dy="1.75">0.04</tspan><tspan dy="-1.75">-MOF-74/NF</tspan></text><circle cx="45.10" cy="185.30" r="1.3" fill="#80b6da"/><text x="51.40" y="187.20" font-size="5.05" text-anchor="start" fill="#1e1e1e" stroke="#1e1e1e" stroke-width="0.34" font-family="Liberation Sans" font-weight="bold" font-style="italic">MXene/NF</text><polyline points="110.6,189.4 113.3,189.4" fill="none" stroke="#4a4a4a" stroke-width="0.6" stroke-linejoin="round" stroke-linecap="round" /><polyline points="113.3,189.4 114.6,192.2 115.8,186.6 117.1,192.2 118.4,186.6 119.6,192.2 120.9,189.4" fill="none" stroke="#4a4a4a" stroke-width="0.75" stroke-linejoin="round" stroke-linecap="round" /><polyline points="120.9,189.4 127.9,189.4" fill="none" stroke="#4a4a4a" stroke-width="0.6" stroke-linejoin="round" stroke-linecap="round" /><polyline points="127.9,180.0 127.9,198.5" fill="none" stroke="#4a4a4a" stroke-width="0.6" stroke-linejoin="round" stroke-linecap="round" /><polyline points="152.7,180.0 152.7,198.5" fill="none" stroke="#4a4a4a" stroke-width="0.6" stroke-linejoin="round" stroke-linecap="round" /><polyline points="127.9,180.0 135.5,180.0" fill="none" stroke="#4a4a4a" stroke-width="0.6" stroke-linejoin="round" stroke-linecap="round" /><polyline points="135.5,180.2 136.8,183.0 138.1,177.4 139.3,183.0 140.6,177.4 141.9,183.0 143.2,180.2" fill="none" stroke="#4a4a4a" stroke-width="0.75" stroke-linejoin="round" stroke-linecap="round" /><polyline points="143.2,180.0 152.7,180.0" fill="none" stroke="#4a4a4a" stroke-width="0.6" stroke-linejoin="round" stroke-linecap="round" /><polyline points="127.9,198.5 137.6,198.5" fill="none" stroke="#4a4a4a" stroke-width="0.6" stroke-linejoin="round" stroke-linecap="round" /><polyline points="139.8,198.5 152.7,198.5" fill="none" stroke="#4a4a4a" stroke-width="0.6" stroke-linejoin="round" stroke-linecap="round" /><polyline points="137.6,196.6 137.6,200.4" fill="none" stroke="#4a4a4a" stroke-width="0.6" stroke-linejoin="round" stroke-linecap="round" /><polyline points="139.8,196.6 139.8,200.4" fill="none" stroke="#4a4a4a" stroke-width="0.6" stroke-linejoin="round" stroke-linecap="round" /><path d="M121.9 188.4L124.0 189.4L121.9 190.4Z" fill="#4a4a4a"/><path d="M132.9 179.0L135.0 180.0L132.9 181.0Z" fill="#4a4a4a"/><path d="M145.1 179.0L147.2 180.0L145.1 181.0Z" fill="#4a4a4a"/><path d="M133.4 197.5L135.5 198.5L133.4 199.5Z" fill="#4a4a4a"/><path d="M144.4 197.5L146.5 198.5L144.4 199.5Z" fill="#4a4a4a"/><path d="M156.9 188.4L159.0 189.4L156.9 190.4Z" fill="#4a4a4a"/><polyline points="152.7,189.4 160.4,189.4" fill="none" stroke="#4a4a4a" stroke-width="0.6" stroke-linejoin="round" stroke-linecap="round" /><rect x="160.4" y="187.2" width="8.2" height="5.0" fill="none" stroke="#4a4a4a" stroke-width="0.6"/><text x="164.50" y="191.30" font-size="4.2" text-anchor="middle" fill="#333" stroke="#333" stroke-width="0.25" font-family="Liberation Sans" font-weight="bold" >W</text><text x="170.60" y="190.60" font-size="2.6" text-anchor="middle" fill="#888" stroke="#888" stroke-width="0.05" font-family="Liberation Sans" font-weight="bold" >x</text><text x="117.10" y="185.60" font-size="2.6" text-anchor="middle" fill="#4a4a4a" stroke="#4a4a4a" stroke-width="0.1" font-family="Liberation Sans" font-weight="bold" >R</text><text x="138.70" y="176.00" font-size="2.6" text-anchor="middle" fill="#4a4a4a" stroke="#4a4a4a" stroke-width="0.1" font-family="Liberation Sans" font-weight="bold" >R</text><text x="138.70" y="195.70" font-size="2.6" text-anchor="middle" fill="#4a4a4a" stroke="#4a4a4a" stroke-width="0.1" font-family="Liberation Sans" font-weight="bold" >CPE</text><rect x="101.4" y="206.9" width="73.80" height="46.10" fill="#fff" stroke="#555" stroke-width="0.6"/><line x1="104.6" y1="253.0" x2="104.6" y2="254.0" stroke="#3a3a3a" stroke-width="0.5"/><text x="104.60" y="258.40" font-size="2.4" text-anchor="middle" fill="#666" stroke="#666" stroke-width="0.2" font-family="Liberation Sans" font-weight="bold" >1.5</text><line x1="112.9" y1="253.0" x2="112.9" y2="254.0" stroke="#3a3a3a" stroke-width="0.5"/><text x="112.90" y="258.40" font-size="2.4" text-anchor="middle" fill="#666" stroke="#666" stroke-width="0.2" font-family="Liberation Sans" font-weight="bold" >1.6</text><line x1="121.2" y1="253.0" x2="121.2" y2="254.0" stroke="#3a3a3a" stroke-width="0.5"/><text x="121.20" y="258.40" font-size="2.4" text-anchor="middle" fill="#666" stroke="#666" stroke-width="0.2" font-family="Liberation Sans" font-weight="bold" >1.7</text><line x1="129.5" y1="253.0" x2="129.5" y2="254.0" stroke="#3a3a3a" stroke-width="0.5"/><text x="129.50" y="258.40" font-size="2.4" text-anchor="middle" fill="#666" stroke="#666" stroke-width="0.2" font-family="Liberation Sans" font-weight="bold" >1.8</text><line x1="137.8" y1="253.0" x2="137.8" y2="254.0" stroke="#3a3a3a" stroke-width="0.5"/><text x="137.80" y="258.40" font-size="2.4" text-anchor="middle" fill="#666" stroke="#666" stroke-width="0.2" font-family="Liberation Sans" font-weight="bold" >1.9</text><line x1="146.1" y1="253.0" x2="146.1" y2="254.0" stroke="#3a3a3a" stroke-width="0.5"/><text x="146.10" y="258.40" font-size="2.4" text-anchor="middle" fill="#666" stroke="#666" stroke-width="0.2" font-family="Liberation Sans" font-weight="bold" >2.0</text><line x1="154.4" y1="253.0" x2="154.4" y2="254.0" stroke="#3a3a3a" stroke-width="0.5"/><text x="154.40" y="258.40" font-size="2.4" text-anchor="middle" fill="#666" stroke="#666" stroke-width="0.2" font-family="Liberation Sans" font-weight="bold" >2.1</text><line x1="162.7" y1="253.0" x2="162.7" y2="254.0" stroke="#3a3a3a" stroke-width="0.5"/><text x="162.70" y="258.40" font-size="2.4" text-anchor="middle" fill="#666" stroke="#666" stroke-width="0.2" font-family="Liberation Sans" font-weight="bold" >2.2</text><line x1="171.0" y1="253.0" x2="171.0" y2="254.0" stroke="#3a3a3a" stroke-width="0.5"/><text x="171.00" y="258.40" font-size="2.4" text-anchor="middle" fill="#666" stroke="#666" stroke-width="0.2" font-family="Liberation Sans" font-weight="bold" >2.3</text><line x1="101.4" y1="252.6" x2="100.5" y2="252.6" stroke="#3a3a3a" stroke-width="0.5"/><text x="100.20" y="253.45" font-size="2.4" text-anchor="end" fill="#666" stroke="#666" stroke-width="0.2" font-family="Liberation Sans" font-weight="bold" >0.0</text><line x1="101.4" y1="245.8" x2="100.5" y2="245.8" stroke="#3a3a3a" stroke-width="0.5"/><text x="100.20" y="246.70" font-size="2.4" text-anchor="end" fill="#666" stroke="#666" stroke-width="0.2" font-family="Liberation Sans" font-weight="bold" >0.1</text><line x1="101.4" y1="239.1" x2="100.5" y2="239.1" stroke="#3a3a3a" stroke-width="0.5"/><text x="100.20" y="239.95" font-size="2.4" text-anchor="end" fill="#666" stroke="#666" stroke-width="0.2" font-family="Liberation Sans" font-weight="bold" >0.2</text><line x1="101.4" y1="232.3" x2="100.5" y2="232.3" stroke="#3a3a3a" stroke-width="0.5"/><text x="100.20" y="233.20" font-size="2.4" text-anchor="end" fill="#666" stroke="#666" stroke-width="0.2" font-family="Liberation Sans" font-weight="bold" >0.3</text><line x1="101.4" y1="225.6" x2="100.5" y2="225.6" stroke="#3a3a3a" stroke-width="0.5"/><text x="100.20" y="226.45" font-size="2.4" text-anchor="end" fill="#666" stroke="#666" stroke-width="0.2" font-family="Liberation Sans" font-weight="bold" >0.4</text><line x1="101.4" y1="218.8" x2="100.5" y2="218.8" stroke="#3a3a3a" stroke-width="0.5"/><text x="100.20" y="219.70" font-size="2.4" text-anchor="end" fill="#666" stroke="#666" stroke-width="0.2" font-family="Liberation Sans" font-weight="bold" >0.5</text><line x1="101.4" y1="212.1" x2="100.5" y2="212.1" stroke="#3a3a3a" stroke-width="0.5"/><text x="100.20" y="212.95" font-size="2.4" text-anchor="end" fill="#666" stroke="#666" stroke-width="0.2" font-family="Liberation Sans" font-weight="bold" >0.6</text><text x="134.50" y="264.80" font-size="2.6" text-anchor="middle" fill="#555" stroke="#555" stroke-width="0.2" font-family="Liberation Sans" font-weight="bold" >Z&#39; (Ohm)</text><text x="95.80" y="229.00" font-size="2.6" text-anchor="middle" fill="#555" stroke="#555" stroke-width="0.2" font-family="Liberation Sans" font-weight="bold" transform="rotate(-90 95.8 229)" >-Z&#39;&#39; (Ohm)</text><polyline points="102.0,251.6 104.0,250.3 106.1,249.2 110.1,247.5 114.2,247.1 118.2,247.1 122.3,247.0 124.5,246.2 125.8,244.3" fill="none" stroke="#ff8a2e" stroke-width="1.3" stroke-linejoin="round" stroke-linecap="round" /><circle cx="126.6" cy="242.7" r="0.75" fill="#ff8a2e"/><circle cx="128.4" cy="240.4" r="0.75" fill="#ff8a2e"/><circle cx="130.4" cy="237.6" r="0.75" fill="#ff8a2e"/><circle cx="133.4" cy="235" r="0.75" fill="#ff8a2e"/><circle cx="135.5" cy="231.7" r="0.75" fill="#ff8a2e"/><polyline points="124.3,252.6 128.5,248.9 133.4,245.2" fill="none" stroke="#80b6da" stroke-width="1.1" stroke-linejoin="round" stroke-linecap="round" /><circle cx="135.8" cy="242.5" r="0.7" fill="#80b6da"/><circle cx="138.5" cy="239.4" r="0.7" fill="#80b6da"/><circle cx="140.5" cy="236.4" r="0.7" fill="#80b6da"/><circle cx="142.5" cy="233.4" r="0.7" fill="#80b6da"/><circle cx="144.6" cy="230.8" r="0.7" fill="#80b6da"/><circle cx="146.6" cy="228.3" r="0.7" fill="#80b6da"/><circle cx="148.5" cy="225.5" r="0.7" fill="#80b6da"/><circle cx="150.2" cy="223.2" r="0.7" fill="#80b6da"/><circle cx="153.7" cy="214.1" r="0.7" fill="#80b6da"/><circle cx="156.7" cy="206.3" r="0.7" fill="#80b6da"/><polyline points="127.4,252.6 131.0,252.3 135.5,251.6 137.5,249.5 138.5,248.3 140.5,243.5" fill="none" stroke="#fd4f98" stroke-width="1.2" stroke-linejoin="round" stroke-linecap="round" /><circle cx="141.5" cy="241.4" r="0.7" fill="#fd4f98"/><circle cx="142.5" cy="239.4" r="0.7" fill="#fd4f98"/><circle cx="143.6" cy="237.4" r="0.7" fill="#fd4f98"/><circle cx="144.6" cy="235.4" r="0.7" fill="#fd4f98"/><polyline points="137.5,252.6 143.0,249.2 149.0,245.6 155.0,241.7 160.0,238.3" fill="none" stroke="#0cb78f" stroke-width="1.2" stroke-linejoin="round" stroke-linecap="round" /><rect x="160.8" y="236.60000000000002" width="1.4" height="1.4" fill="#0cb78f"/><rect x="162.9" y="235.10000000000002" width="1.4" height="1.4" fill="#0cb78f"/><rect x="165.70000000000002" y="233.3" width="1.4" height="1.4" fill="#0cb78f"/><rect x="168.5" y="231.5" width="1.4" height="1.4" fill="#0cb78f"/><rect x="171.20000000000002" y="229.60000000000002" width="1.4" height="1.4" fill="#0cb78f"/><circle cx="108.1" cy="210.1" r="0.75" fill="#fd4f98"/><text x="113.20" y="210.95" font-size="2.25" text-anchor="start" fill="#555" stroke="#555" stroke-width="0.25" font-family="Liberation Sans" font-weight="bold" >CoNi<tspan font-size="1.49" dy="0.74">0.04</tspan><tspan dy="-0.74">-MOF-74/MXene/NF</tspan></text><circle cx="108.1" cy="216.2" r="0.75" fill="#ff8a2e"/><text x="113.20" y="217.05" font-size="2.25" text-anchor="start" fill="#555" stroke="#555" stroke-width="0.25" font-family="Liberation Sans" font-weight="bold" >Co-MOF-74/MXene/NF</text><circle cx="108.1" cy="222.6" r="0.75" fill="#0cb78f"/><text x="113.20" y="223.45" font-size="2.25" text-anchor="start" fill="#555" stroke="#555" stroke-width="0.25" font-family="Liberation Sans" font-weight="bold" >CoNi<tspan font-size="1.49" dy="0.74">0.04</tspan><tspan dy="-0.74">-MOF-74/NF</tspan></text><circle cx="108.1" cy="228.3" r="0.75" fill="#80b6da"/><text x="113.20" y="229.15" font-size="2.25" text-anchor="start" fill="#555" stroke="#555" stroke-width="0.25" font-family="Liberation Sans" font-weight="bold" >MXene/NF</text><text x="187.30" y="158.50" font-size="12.3" text-anchor="start" fill="#1e1e1e" stroke="#1e1e1e" stroke-width="0.14" font-family="Liberation Sans" font-weight="bold" >(e)</text><rect x="216.1" y="158" width="145.40" height="109.10" fill="none" stroke="#3a3a3a" stroke-width="1.2"/><line x1="216.10" y1="267.1" x2="216.10" y2="269.3" stroke="#3a3a3a" stroke-width="0.9"/><line x1="242.38" y1="267.1" x2="242.38" y2="269.3" stroke="#3a3a3a" stroke-width="0.9"/><line x1="268.66" y1="267.1" x2="268.66" y2="269.3" stroke="#3a3a3a" stroke-width="0.9"/><line x1="294.94" y1="267.1" x2="294.94" y2="269.3" stroke="#3a3a3a" stroke-width="0.9"/><line x1="321.22" y1="267.1" x2="321.22" y2="269.3" stroke="#3a3a3a" stroke-width="0.9"/><line x1="347.50" y1="267.1" x2="347.50" y2="269.3" stroke="#3a3a3a" stroke-width="0.9"/><line x1="229.24" y1="267.1" x2="229.24" y2="268.40000000000003" stroke="#3a3a3a" stroke-width="0.7"/><line x1="255.52" y1="267.1" x2="255.52" y2="268.40000000000003" stroke="#3a3a3a" stroke-width="0.7"/><line x1="281.80" y1="267.1" x2="281.80" y2="268.40000000000003" stroke="#3a3a3a" stroke-width="0.7"/><line x1="308.08" y1="267.1" x2="308.08" y2="268.40000000000003" stroke="#3a3a3a" stroke-width="0.7"/><line x1="334.36" y1="267.1" x2="334.36" y2="268.40000000000003" stroke="#3a3a3a" stroke-width="0.7"/><line x1="360.64" y1="267.1" x2="360.64" y2="268.40000000000003" stroke="#3a3a3a" stroke-width="0.7"/><line x1="216.1" y1="260.80" x2="214.29999999999998" y2="260.80" stroke="#3a3a3a" stroke-width="0.9"/><line x1="216.1" y1="251.06" x2="214.29999999999998" y2="251.06" stroke="#3a3a3a" stroke-width="0.9"/><line x1="216.1" y1="241.32" x2="214.29999999999998" y2="241.32" stroke="#3a3a3a" stroke-width="0.9"/><line x1="216.1" y1="231.58" x2="214.29999999999998" y2="231.58" stroke="#3a3a3a" stroke-width="0.9"/><line x1="216.1" y1="221.84" x2="214.29999999999998" y2="221.84" stroke="#3a3a3a" stroke-width="0.9"/><line x1="216.1" y1="212.10" x2="214.29999999999998" y2="212.10" stroke="#3a3a3a" stroke-width="0.9"/><line x1="216.1" y1="202.36" x2="214.29999999999998" y2="202.36" stroke="#3a3a3a" stroke-width="0.9"/><line x1="216.1" y1="192.62" x2="214.29999999999998" y2="192.62" stroke="#3a3a3a" stroke-width="0.9"/><line x1="216.1" y1="182.88" x2="214.29999999999998" y2="182.88" stroke="#3a3a3a" stroke-width="0.9"/><line x1="216.1" y1="173.14" x2="214.29999999999998" y2="173.14" stroke="#3a3a3a" stroke-width="0.9"/><line x1="216.1" y1="163.40" x2="214.29999999999998" y2="163.40" stroke="#3a3a3a" stroke-width="0.9"/><line x1="216.1" y1="255.93" x2="215.1" y2="255.93" stroke="#3a3a3a" stroke-width="0.7"/><line x1="216.1" y1="246.19" x2="215.1" y2="246.19" stroke="#3a3a3a" stroke-width="0.7"/><line x1="216.1" y1="236.45" x2="215.1" y2="236.45" stroke="#3a3a3a" stroke-width="0.7"/><line x1="216.1" y1="226.71" x2="215.1" y2="226.71" stroke="#3a3a3a" stroke-width="0.7"/><line x1="216.1" y1="216.97" x2="215.1" y2="216.97" stroke="#3a3a3a" stroke-width="0.7"/><line x1="216.1" y1="207.23" x2="215.1" y2="207.23" stroke="#3a3a3a" stroke-width="0.7"/><line x1="216.1" y1="197.49" x2="215.1" y2="197.49" stroke="#3a3a3a" stroke-width="0.7"/><line x1="216.1" y1="187.75" x2="215.1" y2="187.75" stroke="#3a3a3a" stroke-width="0.7"/><line x1="216.1" y1="178.01" x2="215.1" y2="178.01" stroke="#3a3a3a" stroke-width="0.7"/><line x1="216.1" y1="168.27" x2="215.1" y2="168.27" stroke="#3a3a3a" stroke-width="0.7"/><text x="216.10" y="274.60" font-size="4.7" text-anchor="middle" fill="#1e1e1e" stroke="#1e1e1e" stroke-width="0.42" font-family="Liberation Sans" font-weight="bold" >0</text><text x="242.38" y="274.60" font-size="4.7" text-anchor="middle" fill="#1e1e1e" stroke="#1e1e1e" stroke-width="0.42" font-family="Liberation Sans" font-weight="bold" >10</text><text x="268.66" y="274.60" font-size="4.7" text-anchor="middle" fill="#1e1e1e" stroke="#1e1e1e" stroke-width="0.42" font-family="Liberation Sans" font-weight="bold" >20</text><text x="294.94" y="274.60" font-size="4.7" text-anchor="middle" fill="#1e1e1e" stroke="#1e1e1e" stroke-width="0.42" font-family="Liberation Sans" font-weight="bold" >30</text><text x="321.22" y="274.60" font-size="4.7" text-anchor="middle" fill="#1e1e1e" stroke="#1e1e1e" stroke-width="0.42" font-family="Liberation Sans" font-weight="bold" >40</text><text x="347.50" y="274.60" font-size="4.7" text-anchor="middle" fill="#1e1e1e" stroke="#1e1e1e" stroke-width="0.42" font-family="Liberation Sans" font-weight="bold" >50</text><text x="213.00" y="262.60" font-size="4.7" text-anchor="end" fill="#1e1e1e" stroke="#1e1e1e" stroke-width="0.42" font-family="Liberation Sans" font-weight="bold" >0.0</text><text x="213.00" y="252.86" font-size="4.7" text-anchor="end" fill="#1e1e1e" stroke="#1e1e1e" stroke-width="0.42" font-family="Liberation Sans" font-weight="bold" >0.1</text><text x="213.00" y="243.12" font-size="4.7" text-anchor="end" fill="#1e1e1e" stroke="#1e1e1e" stroke-width="0.42" font-family="Liberation Sans" font-weight="bold" >0.2</text><text x="213.00" y="233.38" font-size="4.7" text-anchor="end" fill="#1e1e1e" stroke="#1e1e1e" stroke-width="0.42" font-family="Liberation Sans" font-weight="bold" >0.3</text><text x="213.00" y="223.64" font-size="4.7" text-anchor="end" fill="#1e1e1e" stroke="#1e1e1e" stroke-width="0.42" font-family="Liberation Sans" font-weight="bold" >0.4</text><text x="213.00" y="213.90" font-size="4.7" text-anchor="end" fill="#1e1e1e" stroke="#1e1e1e" stroke-width="0.42" font-family="Liberation Sans" font-weight="bold" >0.5</text><text x="213.00" y="204.16" font-size="4.7" text-anchor="end" fill="#1e1e1e" stroke="#1e1e1e" stroke-width="0.42" font-family="Liberation Sans" font-weight="bold" >0.6</text><text x="213.00" y="194.42" font-size="4.7" text-anchor="end" fill="#1e1e1e" stroke="#1e1e1e" stroke-width="0.42" font-family="Liberation Sans" font-weight="bold" >0.7</text><text x="213.00" y="184.68" font-size="4.7" text-anchor="end" fill="#1e1e1e" stroke="#1e1e1e" stroke-width="0.42" font-family="Liberation Sans" font-weight="bold" >0.8</text><text x="213.00" y="174.94" font-size="4.7" text-anchor="end" fill="#1e1e1e" stroke="#1e1e1e" stroke-width="0.42" font-family="Liberation Sans" font-weight="bold" >0.9</text><text x="213.00" y="165.20" font-size="4.7" text-anchor="end" fill="#1e1e1e" stroke="#1e1e1e" stroke-width="0.42" font-family="Liberation Sans" font-weight="bold" >1.0</text><text x="288.80" y="287.00" font-size="8.1" text-anchor="middle" fill="#1e1e1e" stroke="#1e1e1e" stroke-width="0.14" font-family="Liberation Sans" font-weight="bold" >Scan rate (mv s<tspan dx="0.6" font-size="5.0" dy="-3.9">−1</tspan><tspan dy="3.9">)</tspan></text><text x="204.00" y="212.30" font-size="8.6" text-anchor="middle" fill="#1e1e1e" stroke="#1e1e1e" stroke-width="0.14" font-family="Liberation Sans" font-weight="bold" transform="rotate(-90 204.0 212.3)" >Δj /2 (mA cm<tspan font-size="5.33" baseline-shift="4.13">-2</tspan>)</text><line x1="229" y1="247.6" x2="348.4" y2="167.2" stroke="#fd4f98" stroke-width="1.2"/><line x1="229" y1="244.2" x2="348.4" y2="195.6" stroke="#ff8a2e" stroke-width="1.2"/><line x1="229" y1="247.7" x2="348.6" y2="216.2" stroke="#0cb78f" stroke-width="1.2"/><rect x="228.09" y="251.85" width="2.3" height="2.3" fill="#0cb78f"/><rect x="241.23" y="243.35" width="2.3" height="2.3" fill="#0cb78f"/><rect x="267.51" y="230.55" width="2.3" height="2.3" fill="#0cb78f"/><rect x="293.79" y="224.75" width="2.3" height="2.3" fill="#0cb78f"/><rect x="320.07" y="221.25" width="2.3" height="2.3" fill="#0cb78f"/><rect x="346.35" y="219.75" width="2.3" height="2.3" fill="#0cb78f"/><path d="M229.24 247.64L230.74 250.26L227.74 250.26Z" fill="#ff8a2e"/><path d="M242.38 236.84L243.88 239.46L240.88 239.46Z" fill="#ff8a2e"/><path d="M268.66 220.54L270.16 223.16L267.16 223.16Z" fill="#ff8a2e"/><path d="M294.94 210.34L296.44 212.96L293.44 212.96Z" fill="#ff8a2e"/><path d="M321.22 203.34L322.72 205.96L319.72 205.96Z" fill="#ff8a2e"/><path d="M347.50 198.54L349.00 201.16L346.00 201.16Z" fill="#ff8a2e"/><circle cx="229.24" cy="247.50" r="1.15" fill="#fd4f98"/><circle cx="242.38" cy="238.50" r="1.15" fill="#fd4f98"/><circle cx="268.66" cy="218.60" r="1.15" fill="#fd4f98"/><circle cx="294.94" cy="199.00" r="1.15" fill="#fd4f98"/><circle cx="321.22" cy="182.90" r="1.15" fill="#fd4f98"/><circle cx="347.50" cy="169.40" r="1.15" fill="#fd4f98"/><text x="309.50" y="187.50" font-size="5.4" text-anchor="start" fill="#fd4f98" stroke="#fd4f98" stroke-width="0.32" font-family="Liberation Sans" font-weight="bold" transform="rotate(-33 309.5 187.5)" >18.13mF cm<tspan font-size="3.35" baseline-shift="2.59">-2</tspan></text><text x="312.50" y="201.80" font-size="5.4" text-anchor="start" fill="#ff8a2e" stroke="#ff8a2e" stroke-width="0.32" font-family="Liberation Sans" font-weight="bold" transform="rotate(-14 312.5 201.8)" >12.23mF cm<tspan font-size="3.35" baseline-shift="2.59">-2</tspan></text><text x="307.00" y="240.90" font-size="5.4" text-anchor="start" fill="#0cb78f" stroke="#0cb78f" stroke-width="0.32" font-family="Liberation Sans" font-weight="bold" transform="rotate(-13 307 240.9)" >10.43mF cm<tspan font-size="3.35" baseline-shift="2.59">-2</tspan></text><circle cx="225.80" cy="165.50" r="1.3" fill="#fd4f98"/><text x="231.70" y="167.40" font-size="5.05" text-anchor="start" fill="#1e1e1e" stroke="#1e1e1e" stroke-width="0.34" font-family="Liberation Sans" font-weight="bold" font-style="italic">CoNi<tspan font-size="3.50" dy="1.75">0.04</tspan><tspan dy="-1.75">-MOF-74/MXene/NF</tspan></text><path d="M225.80 171.88L227.36 174.60L224.24 174.60Z" fill="#ff8a2e"/><text x="231.70" y="175.40" font-size="5.05" text-anchor="start" fill="#1e1e1e" stroke="#1e1e1e" stroke-width="0.34" font-family="Liberation Sans" font-weight="bold" font-style="italic">Co-MOF-74/MXene/NF</text><rect x="224.50" y="178.70" width="2.6" height="2.6" fill="#0cb78f"/><text x="231.70" y="181.90" font-size="5.05" text-anchor="start" fill="#1e1e1e" stroke="#1e1e1e" stroke-width="0.34" font-family="Liberation Sans" font-weight="bold" font-style="italic">CoNi<tspan font-size="3.50" dy="1.75">0.04</tspan><tspan dy="-1.75">-MOF-74/NF</tspan></text><text x="371.60" y="158.50" font-size="12.3" text-anchor="start" fill="#1e1e1e" stroke="#1e1e1e" stroke-width="0.14" font-family="Liberation Sans" font-weight="bold" >(f)</text><defs><linearGradient id="gf" x1="0" y1="0" x2="0" y2="1"><stop offset="0" stop-color="#38baf0"/><stop offset="0.12" stop-color="#62bdec"/><stop offset="0.3" stop-color="#88c7ef"/><stop offset="0.6" stop-color="#b6dff7"/><stop offset="1" stop-color="#caeefc"/></linearGradient></defs><rect x="396.9" y="158.3" width="144.80" height="108.30" fill="url(#gf)"/><rect x="396.9" y="158.3" width="144.80" height="108.30" fill="none" stroke="#3a3a3a" stroke-width="1.2"/><line x1="396.90" y1="266.6" x2="396.90" y2="268.8" stroke="#3a3a3a" stroke-width="0.9"/><line x1="433.10" y1="266.6" x2="433.10" y2="268.8" stroke="#3a3a3a" stroke-width="0.9"/><line x1="469.30" y1="266.6" x2="469.30" y2="268.8" stroke="#3a3a3a" stroke-width="0.9"/><line x1="505.50" y1="266.6" x2="505.50" y2="268.8" stroke="#3a3a3a" stroke-width="0.9"/><line x1="541.70" y1="266.6" x2="541.70" y2="268.8" stroke="#3a3a3a" stroke-width="0.9"/><line x1="396.9" y1="266.6" x2="396.9" y2="265.0" stroke="#3a3a3a" stroke-width="0.8"/><line x1="433.1" y1="266.6" x2="433.1" y2="265.0" stroke="#3a3a3a" stroke-width="0.8"/><line x1="469.3" y1="266.6" x2="469.3" y2="265.0" stroke="#3a3a3a" stroke-width="0.8"/><line x1="505.5" y1="266.6" x2="505.5" y2="265.0" stroke="#3a3a3a" stroke-width="0.8"/><line x1="541.7" y1="266.6" x2="541.7" y2="265.0" stroke="#3a3a3a" stroke-width="0.8"/><line x1="396.9" y1="265.60" x2="394.7" y2="265.60" stroke="#3a3a3a" stroke-width="0.9"/><line x1="396.9" y1="244.20" x2="394.7" y2="244.20" stroke="#3a3a3a" stroke-width="0.9"/><line x1="396.9" y1="222.80" x2="394.7" y2="222.80" stroke="#3a3a3a" stroke-width="0.9"/><line x1="396.9" y1="201.40" x2="394.7" y2="201.40" stroke="#3a3a3a" stroke-width="0.9"/><line x1="396.9" y1="180.00" x2="394.7" y2="180.00" stroke="#3a3a3a" stroke-width="0.9"/><line x1="396.9" y1="158.60" x2="394.7" y2="158.60" stroke="#3a3a3a" stroke-width="0.9"/><line x1="396.9" y1="265.6" x2="398.5" y2="265.6" stroke="#3a3a3a" stroke-width="0.8"/><line x1="396.9" y1="244.2" x2="398.5" y2="244.2" stroke="#3a3a3a" stroke-width="0.8"/><line x1="396.9" y1="222.8" x2="398.5" y2="222.8" stroke="#3a3a3a" stroke-width="0.8"/><line x1="396.9" y1="201.4" x2="398.5" y2="201.4" stroke="#3a3a3a" stroke-width="0.8"/><line x1="396.9" y1="180.0" x2="398.5" y2="180.0" stroke="#3a3a3a" stroke-width="0.8"/><line x1="396.9" y1="158.6" x2="398.5" y2="158.6" stroke="#3a3a3a" stroke-width="0.8"/><text x="396.90" y="273.60" font-size="4.6" text-anchor="middle" fill="#1e1e1e" stroke="#1e1e1e" stroke-width="0.42" font-family="Liberation Sans" font-weight="bold" >0</text><text x="433.10" y="273.60" font-size="4.6" text-anchor="middle" fill="#1e1e1e" stroke="#1e1e1e" stroke-width="0.42" font-family="Liberation Sans" font-weight="bold" >10</text><text x="469.30" y="273.60" font-size="4.6" text-anchor="middle" fill="#1e1e1e" stroke="#1e1e1e" stroke-width="0.42" font-family="Liberation Sans" font-weight="bold" >20</text><text x="505.50" y="273.60" font-size="4.6" text-anchor="middle" fill="#1e1e1e" stroke="#1e1e1e" stroke-width="0.42" font-family="Liberation Sans" font-weight="bold" >30</text><text x="541.70" y="273.60" font-size="4.6" text-anchor="middle" fill="#1e1e1e" stroke="#1e1e1e" stroke-width="0.42" font-family="Liberation Sans" font-weight="bold" >40</text><text x="394.40" y="267.70" font-size="4.6" text-anchor="end" fill="#1e1e1e" stroke="#1e1e1e" stroke-width="0.42" font-family="Liberation Sans" font-weight="bold" >1.35</text><text x="394.40" y="246.30" font-size="4.6" text-anchor="end" fill="#1e1e1e" stroke="#1e1e1e" stroke-width="0.42" font-family="Liberation Sans" font-weight="bold" >1.40</text><text x="394.40" y="224.90" font-size="4.6" text-anchor="end" fill="#1e1e1e" stroke="#1e1e1e" stroke-width="0.42" font-family="Liberation Sans" font-weight="bold" >1.45</text><text x="394.40" y="203.50" font-size="4.6" text-anchor="end" fill="#1e1e1e" stroke="#1e1e1e" stroke-width="0.42" font-family="Liberation Sans" font-weight="bold" >1.50</text><text x="394.40" y="182.10" font-size="4.6" text-anchor="end" fill="#1e1e1e" stroke="#1e1e1e" stroke-width="0.42" font-family="Liberation Sans" font-weight="bold" >1.55</text><text x="394.40" y="160.70" font-size="4.6" text-anchor="end" fill="#1e1e1e" stroke="#1e1e1e" stroke-width="0.42" font-family="Liberation Sans" font-weight="bold" >1.60</text><text x="469.80" y="284.80" font-size="8.0" text-anchor="middle" fill="#1e1e1e" stroke="#1e1e1e" stroke-width="0.14" font-family="Liberation Sans" font-weight="bold" >Time (h)</text><text x="382.90" y="207.00" font-size="7.2" text-anchor="middle" fill="#1e1e1e" stroke="#1e1e1e" stroke-width="0.14" font-family="Liberation Sans" font-weight="bold" transform="rotate(-90 382.9 207)" >Potential (V vs.RHE)</text><polyline points="397.4,210.7 398.2,210.3 399.1,211.0 399.9,210.0 400.8,210.6 401.6,210.3 402.5,209.7 403.3,210.3 404.1,209.5 405.0,210.0 405.8,209.3 406.7,209.3 407.5,209.7 408.4,210.3 409.2,209.1 410.0,209.2 410.9,209.8 411.7,210.2 412.6,209.5 413.4,209.2 414.2,210.0 415.1,208.5 415.9,209.7 416.8,208.8 417.6,208.5 418.5,208.4 419.3,208.6 420.1,209.4 421.0,208.3 421.8,208.9 422.7,208.9 423.5,208.5 424.4,208.7 425.2,207.9 426.0,207.8 426.9,208.0 427.7,208.7 428.6,208.3 429.4,208.1 430.3,208.5 431.1,208.2 431.9,207.9 432.8,208.7 433.6,208.5 434.5,207.7 435.3,208.2 436.1,208.1 437.0,208.7 437.8,208.4 438.7,207.7 439.5,208.7 440.4,207.3 441.2,207.8 442.0,208.3 442.9,207.3 443.7,207.8 444.6,207.1 445.4,208.1 446.3,208.2 447.1,207.9 447.9,208.3 448.8,207.4 449.6,208.0 450.5,207.8 451.3,207.8 452.2,207.6 453.0,208.1 453.8,208.3 454.7,207.5 455.5,207.8 456.4,206.8 457.2,207.8 458.0,207.7 458.9,208.3 459.7,208.0 460.6,207.1 461.4,207.3 462.3,207.7 463.1,206.7 463.9,207.4 464.8,206.9 465.6,206.8 466.5,206.7 467.3,207.8 468.2,206.8 469.0,206.9 469.8,207.2 470.7,207.9 471.5,206.7 472.4,207.2 473.2,207.4 474.1,207.9 474.9,207.8 475.7,207.9 476.6,206.9 477.4,207.1 478.3,207.0 479.1,207.9 480.0,208.0 480.8,206.7 481.6,206.7 482.5,206.8 483.3,206.8 484.2,207.2 485.0,207.4 485.8,206.8 486.7,206.4 487.5,207.1 488.4,207.0 489.2,207.3 490.1,207.9 490.9,207.5 491.7,207.2 492.6,207.4 493.4,207.5 494.3,206.5 495.1,207.8 496.0,207.6 496.8,207.8 497.6,207.6 498.5,207.0 499.3,207.0 500.2,206.5 501.0,207.4 501.9,206.5 502.7,206.5 503.5,206.7 504.4,206.6 505.2,206.9 506.1,206.4 506.9,206.3 507.7,206.6 508.6,206.5 509.4,206.9 510.3,206.4 511.1,207.7 512.0,207.3 512.8,206.6 513.6,206.7 514.5,206.9 515.3,206.9 516.2,206.5 517.0,207.7 517.9,207.9 518.7,207.1 519.5,207.1 520.4,206.5 521.2,206.5 522.1,206.9 522.9,206.8 523.8,207.7 524.6,206.6 525.4,206.4 526.3,207.9 527.1,207.2 528.0,206.6 528.8,207.2 529.6,206.4 530.5,207.2 531.3,207.9 532.2,207.7 533.0,207.5 533.9,206.8 534.7,206.9 535.5,206.6 536.4,207.6 537.2,207.2 538.1,207.6 538.9,206.9 539.8,206.7 540.6,207.6" fill="none" stroke="#2c2c2c" stroke-width="2.0" stroke-linejoin="round" stroke-linecap="round" /><g fill="#3a3a3a"><circle cx="397.6" cy="212.3" r="0.95"/><circle cx="398.2" cy="211.8" r="0.95"/><circle cx="398.7" cy="211.7" r="0.95"/><circle cx="399.3" cy="211.6" r="0.95"/><circle cx="399.8" cy="211.3" r="0.95"/><circle cx="400.4" cy="209.9" r="0.95"/><circle cx="400.9" cy="210.6" r="0.95"/><circle cx="401.5" cy="210.1" r="0.95"/><circle cx="402.0" cy="209.2" r="0.95"/><circle cx="402.6" cy="209.2" r="0.95"/><circle cx="403.1" cy="209.8" r="0.95"/><circle cx="403.7" cy="209.6" r="0.95"/><circle cx="404.2" cy="210.7" r="0.95"/><circle cx="404.8" cy="211.3" r="0.95"/><circle cx="405.3" cy="210.0" r="0.95"/><circle cx="405.9" cy="211.2" r="0.95"/><circle cx="406.4" cy="211.3" r="0.95"/><circle cx="407.0" cy="211.1" r="0.95"/><circle cx="407.5" cy="209.5" r="0.95"/><circle cx="408.1" cy="209.1" r="0.95"/><circle cx="408.6" cy="209.1" r="0.95"/><circle cx="409.2" cy="208.9" r="0.95"/><circle cx="409.7" cy="208.9" r="0.95"/><circle cx="410.3" cy="209.9" r="0.95"/><circle cx="410.8" cy="210.6" r="0.95"/><circle cx="411.4" cy="210.4" r="0.95"/><circle cx="411.9" cy="209.4" r="0.95"/><circle cx="412.5" cy="209.8" r="0.95"/><circle cx="413.0" cy="210.2" r="0.95"/><circle cx="413.6" cy="208.3" r="0.95"/><circle cx="414.1" cy="209.7" r="0.95"/><circle cx="414.7" cy="210.3" r="0.95"/><circle cx="415.2" cy="209.9" r="0.95"/><circle cx="415.8" cy="209.8" r="0.95"/><circle cx="416.3" cy="209.1" r="0.95"/><circle cx="416.9" cy="208.3" r="0.95"/><circle cx="417.4" cy="209.8" r="0.95"/><circle cx="418.0" cy="208.6" r="0.95"/><circle cx="418.6" cy="209.8" r="0.95"/><circle cx="419.1" cy="210.2" r="0.95"/><circle cx="419.7" cy="208.6" r="0.95"/><circle cx="420.2" cy="208.6" r="0.95"/><circle cx="420.8" cy="210.0" r="0.95"/><circle cx="421.3" cy="209.4" r="0.95"/><circle cx="421.9" cy="207.9" r="0.95"/><circle cx="422.4" cy="207.8" r="0.95"/><circle cx="423.0" cy="207.8" r="0.95"/><circle cx="423.5" cy="209.7" r="0.95"/><circle cx="424.1" cy="209.4" r="0.95"/><circle cx="424.6" cy="207.7" r="0.95"/><circle cx="425.2" cy="209.4" r="0.95"/><circle cx="425.7" cy="209.8" r="0.95"/><circle cx="426.3" cy="208.9" r="0.95"/><circle cx="426.8" cy="208.1" r="0.95"/><circle cx="427.4" cy="208.6" r="0.95"/><circle cx="427.9" cy="207.5" r="0.95"/><circle cx="428.5" cy="207.1" r="0.95"/><circle cx="429.0" cy="209.6" r="0.95"/><circle cx="429.6" cy="208.7" r="0.95"/><circle cx="430.1" cy="208.4" r="0.95"/><circle cx="430.7" cy="209.4" r="0.95"/><circle cx="431.2" cy="208.1" r="0.95"/><circle cx="431.8" cy="209.2" r="0.95"/><circle cx="432.3" cy="209.1" r="0.95"/><circle cx="432.9" cy="207.5" r="0.95"/><circle cx="433.4" cy="207.5" r="0.95"/><circle cx="434.0" cy="207.6" r="0.95"/><circle cx="434.5" cy="207.5" r="0.95"/><circle cx="435.1" cy="208.3" r="0.95"/><circle cx="435.6" cy="207.5" r="0.95"/><circle cx="436.2" cy="207.9" r="0.95"/><circle cx="436.7" cy="207.1" r="0.95"/><circle cx="437.3" cy="209.1" r="0.95"/><circle cx="437.8" cy="207.6" r="0.95"/><circle cx="438.4" cy="207.9" r="0.95"/><circle cx="439.0" cy="208.2" r="0.95"/><circle cx="439.5" cy="209.0" r="0.95"/><circle cx="440.1" cy="207.7" r="0.95"/><circle cx="440.6" cy="209.0" r="0.95"/><circle cx="441.2" cy="207.9" r="0.95"/><circle cx="441.7" cy="208.0" r="0.95"/><circle cx="442.3" cy="207.9" r="0.95"/><circle cx="442.8" cy="206.6" r="0.95"/><circle cx="443.4" cy="207.7" r="0.95"/><circle cx="443.9" cy="207.0" r="0.95"/><circle cx="444.5" cy="206.5" r="0.95"/><circle cx="445.0" cy="208.6" r="0.95"/><circle cx="445.6" cy="206.9" r="0.95"/><circle cx="446.1" cy="207.7" r="0.95"/><circle cx="446.7" cy="208.3" r="0.95"/><circle cx="447.2" cy="207.9" r="0.95"/><circle cx="447.8" cy="207.3" r="0.95"/><circle cx="448.3" cy="207.8" r="0.95"/><circle cx="448.9" cy="207.8" r="0.95"/><circle cx="449.4" cy="208.4" r="0.95"/><circle cx="450.0" cy="206.6" r="0.95"/><circle cx="450.5" cy="207.8" r="0.95"/><circle cx="451.1" cy="207.0" r="0.95"/><circle cx="451.6" cy="207.1" r="0.95"/><circle cx="452.2" cy="208.3" r="0.95"/><circle cx="452.7" cy="207.6" r="0.95"/><circle cx="453.3" cy="207.8" r="0.95"/><circle cx="453.8" cy="208.3" r="0.95"/><circle cx="454.4" cy="208.6" r="0.95"/><circle cx="454.9" cy="207.4" r="0.95"/><circle cx="455.5" cy="207.8" r="0.95"/><circle cx="456.0" cy="207.6" r="0.95"/><circle cx="456.6" cy="207.6" r="0.95"/><circle cx="457.1" cy="208.0" r="0.95"/><circle cx="457.7" cy="207.4" r="0.95"/><circle cx="458.2" cy="207.6" r="0.95"/><circle cx="458.8" cy="207.4" r="0.95"/><circle cx="459.4" cy="208.6" r="0.95"/><circle cx="459.9" cy="208.0" r="0.95"/><circle cx="460.5" cy="208.4" r="0.95"/><circle cx="461.0" cy="208.6" r="0.95"/><circle cx="461.6" cy="206.8" r="0.95"/><circle cx="462.1" cy="207.6" r="0.95"/><circle cx="462.7" cy="208.6" r="0.95"/><circle cx="463.2" cy="208.3" r="0.95"/><circle cx="463.8" cy="206.5" r="0.95"/><circle cx="464.3" cy="206.4" r="0.95"/><circle cx="464.9" cy="207.3" r="0.95"/><circle cx="465.4" cy="206.3" r="0.95"/><circle cx="466.0" cy="206.7" r="0.95"/><circle cx="466.5" cy="206.3" r="0.95"/><circle cx="467.1" cy="207.8" r="0.95"/><circle cx="467.6" cy="208.1" r="0.95"/><circle cx="468.2" cy="208.4" r="0.95"/><circle cx="468.7" cy="206.5" r="0.95"/><circle cx="469.3" cy="207.9" r="0.95"/><circle cx="469.8" cy="207.8" r="0.95"/><circle cx="470.4" cy="206.4" r="0.95"/><circle cx="470.9" cy="208.3" r="0.95"/><circle cx="471.5" cy="208.5" r="0.95"/><circle cx="472.0" cy="206.6" r="0.95"/><circle cx="472.6" cy="208.5" r="0.95"/><circle cx="473.1" cy="207.0" r="0.95"/><circle cx="473.7" cy="207.3" r="0.95"/><circle cx="474.2" cy="208.6" r="0.95"/><circle cx="474.8" cy="208.2" r="0.95"/><circle cx="475.3" cy="206.4" r="0.95"/><circle cx="475.9" cy="207.1" r="0.95"/><circle cx="476.4" cy="207.3" r="0.95"/><circle cx="477.0" cy="206.9" r="0.95"/><circle cx="477.5" cy="206.5" r="0.95"/><circle cx="478.1" cy="206.8" r="0.95"/><circle cx="478.6" cy="207.8" r="0.95"/><circle cx="479.2" cy="206.0" r="0.95"/><circle cx="479.8" cy="207.4" r="0.95"/><circle cx="480.3" cy="207.1" r="0.95"/><circle cx="480.9" cy="206.0" r="0.95"/><circle cx="481.4" cy="206.8" r="0.95"/><circle cx="482.0" cy="207.6" r="0.95"/><circle cx="482.5" cy="207.3" r="0.95"/><circle cx="483.1" cy="206.1" r="0.95"/><circle cx="483.6" cy="208.5" r="0.95"/><circle cx="484.2" cy="208.0" r="0.95"/><circle cx="484.7" cy="208.4" r="0.95"/><circle cx="485.3" cy="206.2" r="0.95"/><circle cx="485.8" cy="206.6" r="0.95"/><circle cx="486.4" cy="206.0" r="0.95"/><circle cx="486.9" cy="207.9" r="0.95"/><circle cx="487.5" cy="206.6" r="0.95"/><circle cx="488.0" cy="206.2" r="0.95"/><circle cx="488.6" cy="207.0" r="0.95"/><circle cx="489.1" cy="208.3" r="0.95"/><circle cx="489.7" cy="208.0" r="0.95"/><circle cx="490.2" cy="206.6" r="0.95"/><circle cx="490.8" cy="206.3" r="0.95"/><circle cx="491.3" cy="208.3" r="0.95"/><circle cx="491.9" cy="207.4" r="0.95"/><circle cx="492.4" cy="207.7" r="0.95"/><circle cx="493.0" cy="206.1" r="0.95"/><circle cx="493.5" cy="206.0" r="0.95"/><circle cx="494.1" cy="207.7" r="0.95"/><circle cx="494.6" cy="207.0" r="0.95"/><circle cx="495.2" cy="206.1" r="0.95"/><circle cx="495.7" cy="208.3" r="0.95"/><circle cx="496.3" cy="207.5" r="0.95"/><circle cx="496.8" cy="208.0" r="0.95"/><circle cx="497.4" cy="206.1" r="0.95"/><circle cx="497.9" cy="208.1" r="0.95"/><circle cx="498.5" cy="206.0" r="0.95"/><circle cx="499.0" cy="208.1" r="0.95"/><circle cx="499.6" cy="207.0" r="0.95"/><circle cx="500.2" cy="206.7" r="0.95"/><circle cx="500.7" cy="207.3" r="0.95"/><circle cx="501.3" cy="208.3" r="0.95"/><circle cx="501.8" cy="206.5" r="0.95"/><circle cx="502.4" cy="206.2" r="0.95"/><circle cx="502.9" cy="207.2" r="0.95"/><circle cx="503.5" cy="206.5" r="0.95"/><circle cx="504.0" cy="206.1" r="0.95"/><circle cx="504.6" cy="206.3" r="0.95"/><circle cx="505.1" cy="206.0" r="0.95"/><circle cx="505.7" cy="206.4" r="0.95"/><circle cx="506.2" cy="206.7" r="0.95"/><circle cx="506.8" cy="206.6" r="0.95"/><circle cx="507.3" cy="207.8" r="0.95"/><circle cx="507.9" cy="206.6" r="0.95"/><circle cx="508.4" cy="207.1" r="0.95"/><circle cx="509.0" cy="206.3" r="0.95"/><circle cx="509.5" cy="206.7" r="0.95"/><circle cx="510.1" cy="205.9" r="0.95"/><circle cx="510.6" cy="206.5" r="0.95"/><circle cx="511.2" cy="205.9" r="0.95"/><circle cx="511.7" cy="207.7" r="0.95"/><circle cx="512.3" cy="207.3" r="0.95"/><circle cx="512.8" cy="206.3" r="0.95"/><circle cx="513.4" cy="207.1" r="0.95"/><circle cx="513.9" cy="208.3" r="0.95"/><circle cx="514.5" cy="206.1" r="0.95"/><circle cx="515.0" cy="208.0" r="0.95"/><circle cx="515.6" cy="207.0" r="0.95"/><circle cx="516.1" cy="207.1" r="0.95"/><circle cx="516.7" cy="208.0" r="0.95"/><circle cx="517.2" cy="206.9" r="0.95"/><circle cx="517.8" cy="207.2" r="0.95"/><circle cx="518.3" cy="207.6" r="0.95"/><circle cx="518.9" cy="208.4" r="0.95"/><circle cx="519.4" cy="206.7" r="0.95"/><circle cx="520.0" cy="208.0" r="0.95"/><circle cx="520.6" cy="207.7" r="0.95"/><circle cx="521.1" cy="207.5" r="0.95"/><circle cx="521.7" cy="206.9" r="0.95"/><circle cx="522.2" cy="206.7" r="0.95"/><circle cx="522.8" cy="206.0" r="0.95"/><circle cx="523.3" cy="206.2" r="0.95"/><circle cx="523.9" cy="206.0" r="0.95"/><circle cx="524.4" cy="207.8" r="0.95"/><circle cx="525.0" cy="206.5" r="0.95"/><circle cx="525.5" cy="206.3" r="0.95"/><circle cx="526.1" cy="206.1" r="0.95"/><circle cx="526.6" cy="208.0" r="0.95"/><circle cx="527.2" cy="208.1" r="0.95"/><circle cx="527.7" cy="207.6" r="0.95"/><circle cx="528.3" cy="206.6" r="0.95"/><circle cx="528.8" cy="206.5" r="0.95"/><circle cx="529.4" cy="206.6" r="0.95"/><circle cx="529.9" cy="207.0" r="0.95"/><circle cx="530.5" cy="206.2" r="0.95"/><circle cx="531.0" cy="207.0" r="0.95"/><circle cx="531.6" cy="206.5" r="0.95"/><circle cx="532.1" cy="208.3" r="0.95"/><circle cx="532.7" cy="208.4" r="0.95"/><circle cx="533.2" cy="207.3" r="0.95"/><circle cx="533.8" cy="206.5" r="0.95"/><circle cx="534.3" cy="208.4" r="0.95"/><circle cx="534.9" cy="206.6" r="0.95"/><circle cx="535.4" cy="206.8" r="0.95"/><circle cx="536.0" cy="205.8" r="0.95"/><circle cx="536.5" cy="206.8" r="0.95"/><circle cx="537.1" cy="207.1" r="0.95"/><circle cx="537.6" cy="207.2" r="0.95"/><circle cx="538.2" cy="206.4" r="0.95"/><circle cx="538.7" cy="207.2" r="0.95"/><circle cx="539.3" cy="205.9" r="0.95"/><circle cx="539.8" cy="206.5" r="0.95"/><circle cx="540.4" cy="206.1" r="0.95"/></g><text x="453.70" y="201.60" font-size="5.0" text-anchor="start" fill="#1e1e1e" stroke="#1e1e1e" stroke-width="0.42" font-family="Liberation Sans" font-weight="bold" >j =100mA cm<tspan font-size="3.10" baseline-shift="2.40">-2</tspan></text></svg></body></html>
